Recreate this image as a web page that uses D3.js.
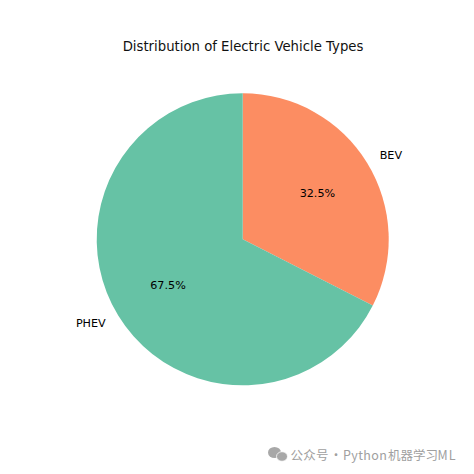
<!DOCTYPE html>
<html><head><meta charset="utf-8">
<script src="https://cdn.jsdelivr.net/npm/d3@7/dist/d3.min.js"></script>
<style>html,body{margin:0;padding:0;background:#fff}svg{display:block}</style></head>
<body><svg id="c" width="474" height="474"></svg>
<script>
const categories = ["BEV", "PHEV"];
const shares = [32.5, 67.5];
const colors = ["#fc8d62", "#66c2a5"];
const title = "Distribution of Electric Vehicle Types";
const watermarkParts = ["公众号", "·", "Python", "机器学习", "ML"];

const svg = d3.select("#c");
const font = "'DejaVu Sans', sans-serif";
const cx = 242.7, cy = 239.3, r = 146;
const g = svg.append("g").attr("transform", `translate(${cx},${cy})`);
const pie = d3.pie().sort(null).value(d => d.v);
const data = pie(categories.map((c, i) => ({c, v: shares[i], col: colors[i]})));
const arc = d3.arc().innerRadius(0).outerRadius(r);
g.selectAll("path").data(data).join("path")
  .attr("d", arc).attr("fill", d => d.data.col);
g.selectAll("text.p").data(data).join("text").attr("class","p")
  .attr("transform", d => { const a=(d.startAngle+d.endAngle)/2; return `translate(${r*0.6*Math.sin(a)},${-r*0.6*Math.cos(a)})`; })
  .attr("text-anchor","middle").attr("dominant-baseline","central")
  .style("font", `11.2px ${font}`).attr("fill","#000")
  .text(d => d.data.v.toFixed(1) + "%");
g.selectAll("text.l").data(data).join("text").attr("class","l")
  .attr("transform", d => { const a=(d.startAngle+d.endAngle)/2; return `translate(${r*1.1*Math.sin(a)},${-r*1.1*Math.cos(a)})`; })
  .attr("text-anchor", d => Math.sin((d.startAngle+d.endAngle)/2) > 0 ? "start" : "end")
  .attr("dominant-baseline","central")
  .style("font", `11.2px ${font}`).attr("fill","#000")
  .text(d => d.data.c);
svg.append("text").attr("x",243).attr("y",50.5).attr("text-anchor","middle")
  .style("font", `13.25px ${font}`).attr("fill","#111").text(title);
// watermark: WeChat-style bubbles and caption
const wm = svg.append("g").attr("fill","#a8a8a8");
wm.append("ellipse").attr("cx",274.5).attr("cy",452.5).attr("rx",6.5).attr("ry",5.5);
wm.append("ellipse").attr("cx",282).attr("cy",456.5).attr("rx",5.5).attr("ry",4.8).attr("stroke","#fff").attr("stroke-width",0.8);
const wmX = [290.5, 329.8, 343, 388, 437.5];
const wmSpacing = [0.2, 0, 0.4, 0, 1];
svg.append("text").attr("y",459.5)
  .style("font", `12.5px 'Noto Sans CJK SC', sans-serif`)
  .attr("fill","#a0a0a0")
  .selectAll("tspan").data(watermarkParts).join("tspan")
  .attr("x",(d,i)=>wmX[i]).style("letter-spacing",(d,i)=>wmSpacing[i]+"px").text(d=>d);
</script></body></html>
